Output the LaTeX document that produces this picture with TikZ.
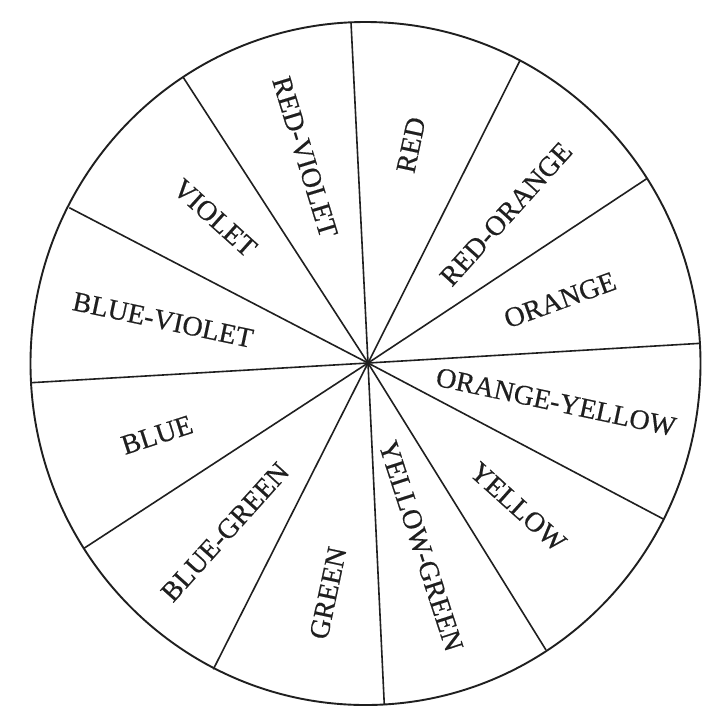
\documentclass[tikz,border=0pt]{standalone}
\usepackage{fontspec}
\setmainfont{Liberation Serif}
\newfontfamily\lblfont{Liberation Serif}[FakeBold=0.5]
\begin{document}
\begin{tikzpicture}[x=1pt,y=-1pt,
  rim/.style={line width=1.9pt,draw=black!88},
  spoke/.style={line width=1.6pt,draw=black!88},
  lbl/.style={font=\lblfont\fontsize{28}{28}\selectfont,text=black!88,inner sep=0pt}]
\useasboundingbox (0,0) rectangle (725,724);
\fill[white] (0,0) rectangle (725,724);
\draw[rim] (365.5,363.5) ellipse [x radius=335,y radius=341.5];
\coordinate (c) at (368,363);
\coordinate (p1) at (351,22.5);
\coordinate (p2) at (520,60.5);
\coordinate (p3) at (647.3,178.3);
\coordinate (p4) at (700.7,343.3);
\coordinate (p5) at (663.3,519);
\coordinate (p6) at (546,650);
\coordinate (p7) at (384.3,705);
\coordinate (p8) at (213.3,669.3);
\coordinate (p9) at (84,548.3);
\coordinate (p10) at (31,382.7);
\coordinate (p11) at (69.3,207.7);
\coordinate (p12) at (183,77);
\foreach \i in {1,...,12} \draw[spoke] (c) -- (p\i);
\node[lbl,rotate=-73] (rv) at (305,157) {RED-VIOLET};
\node[lbl,rotate=78] (r) at (411,145) {RED};
\node[lbl,rotate=48] (ro) at (506,214) {RED-ORANGE};
\node[lbl,rotate=20] (o) at (560,300) {ORANGE};
\node[lbl,rotate=-12] (oy) at (556,402) {ORANGE-YELLOW};
\node[lbl,rotate=-42] (y) at (518,507) {YELLOW};
\node[lbl,rotate=-72] (yg) at (421,546) {YELLOW-GREEN};
\node[lbl,rotate=78] (g) at (328,593) {GREEN};
\node[lbl,rotate=48] (bg) at (225,532) {BLUE-GREEN};
\node[lbl,rotate=18] (b) at (157,435) {BLUE};
\node[lbl,rotate=-12] (bv) at (163,320) {BLUE-VIOLET};
\node[lbl,rotate=-42] (v) at (215,218) {VIOLET};
\end{tikzpicture}
\end{document}
